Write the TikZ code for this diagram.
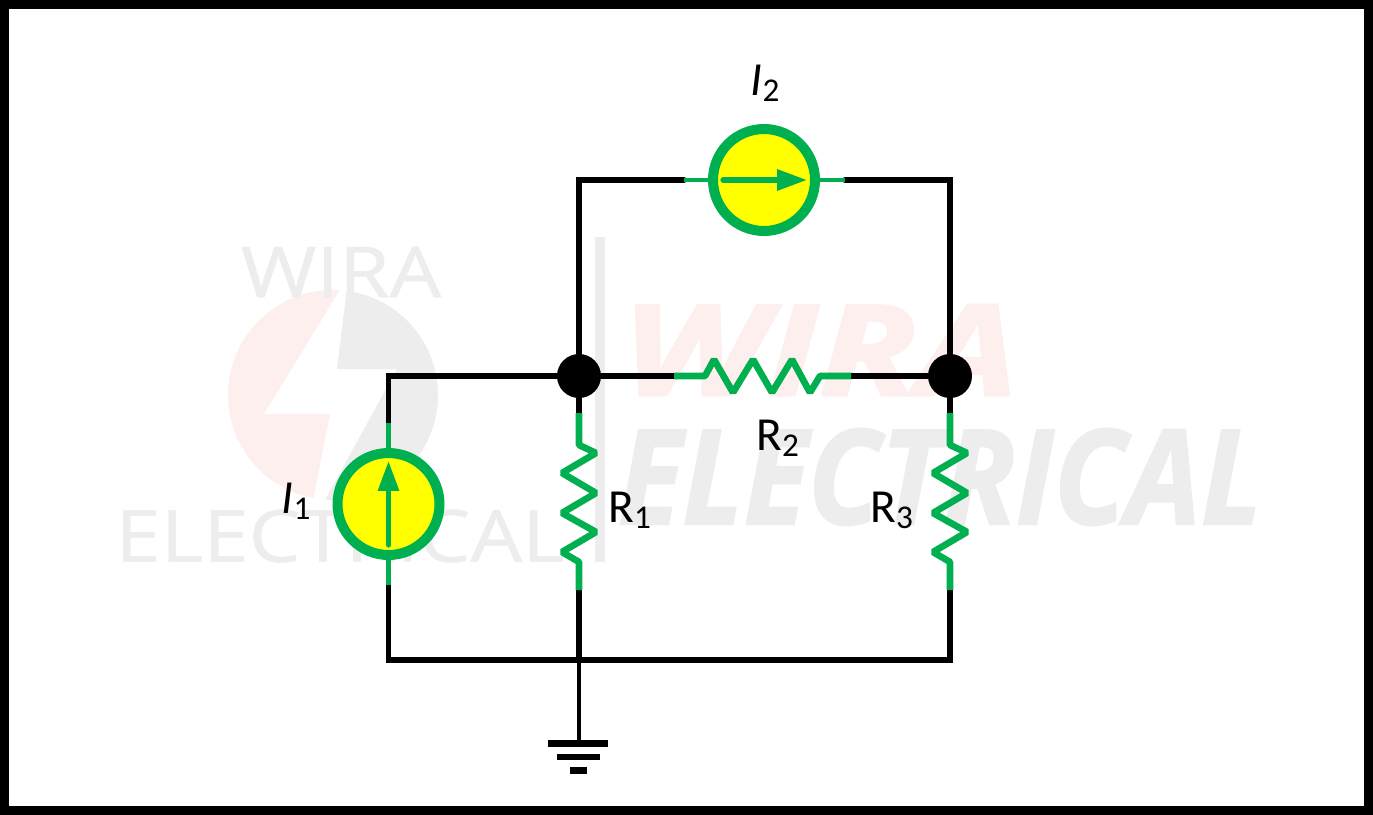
\documentclass[tikz,border=0pt]{standalone}
\usepackage{fontspec}
\setmainfont{Carlito}
\newfontfamily\markfont[FakeBold=0.7]{Open Sans}
\newfontfamily\heavyfont[BoldItalicFeatures={FakeBold=1.5}]{Open Sans}
\usetikzlibrary{arrows.meta}
\definecolor{wiregreen}{HTML}{00B050}
\definecolor{srcyellow}{RGB}{255,255,0}
\definecolor{markgray}{HTML}{EDEDED}
\definecolor{markred}{HTML}{FDEFEE}
\newcommand{\lab}[2]{\textit{#1}\textsubscript{#2}}

\begin{document}
\begin{tikzpicture}[x=0.02cm,y=-0.02cm]
        \tikzset{wire/.style = {line width=3.2pt,line cap=round}}
        \tikzset{lead/.style = {line width=3.2pt,wiregreen}}
        \tikzset{res/.style = {line width=3.8pt,wiregreen,line join=bevel}}
        \tikzset{dot/.style = {shape=circle,fill=black,inner sep=0pt,minimum size=0.88cm}}
        \tikzset{source/.style = {shape=circle,draw=wiregreen,fill=srcyellow,line width=5.7pt,inner sep=0pt,minimum size=2.04cm}}
        \tikzset{flow/.style = {-{Triangle[length=17pt,width=11.5pt]},line width=3pt,line cap=round,wiregreen}}
        \tikzset{tag/.style = {anchor=base,inner sep=0pt,font=\fontsize{27}{32}\selectfont}}
        \tikzset{plate/.style = {fill=black,inner sep=0pt,minimum height=0.13cm}}
        \useasboundingbox (0,0) rectangle (1373,815);
        \fill[white] (0,0) rectangle (1373,815);
        % watermark
        \coordinate (logo) at (333,395);
        \begin{scope}
        \clip (logo) circle[radius=2.1cm];
        \fill[markred] (341,288) -- (264,414) -- (330,414) -- (313,500) -- (200,500) -- (200,288) -- cycle;
        \fill[markgray] (347,288) -- (337,369) -- (397,369) -- (325,500) -- (460,500) -- (460,288) -- cycle;
        \end{scope}
        \fill[markgray] (595,237) rectangle (605,562);
        \node[text=markgray,inner sep=0pt,font=\markfont\fontsize{40}{44}\selectfont] (m1) at (341,272) {\scalebox{1.16}[1]{WIRA}};
        \node[text=markgray,inner sep=0pt,font=\markfont\fontsize{41}{44}\selectfont] (m2) at (340,536) {\scalebox{1.135}[1]{ELECTRICAL}};
        \node[text=markred,inner sep=0pt,font=\heavyfont\bfseries\itshape\fontsize{72}{80}\selectfont] (m3) at (820,350) {\scalebox{1.28}[1]{WIRA}};
        \node[text=markgray,inner sep=0pt,font=\heavyfont\bfseries\itshape\fontsize{75}{80}\selectfont] (m4) at (940,477) {\scalebox{0.9}[1]{ELECTRICAL}};
        % corners and lead ends
        \coordinate (tl) at (579,180);
        \coordinate (tr) at (950,180);
        \coordinate (cl) at (388.5,376);
        \coordinate (bl) at (388.5,660);
        \coordinate (bm) at (579,660);
        \coordinate (br) at (950,660);
        \coordinate (i1a) at (388.5,423);
        \coordinate (i1b) at (388.5,585);
        \coordinate (i2a) at (684,180);
        \coordinate (i2b) at (845,180);
        \coordinate (r1a) at (579,413);
        \coordinate (r1b) at (579,590);
        \coordinate (r2a) at (674,376);
        \coordinate (r2b) at (851,376);
        \coordinate (r3a) at (950,413);
        \coordinate (r3b) at (950,590);
        \coordinate (gnd) at (579,742);
        % vertices
        \node[dot] (n1) at (579,376) {};
        \node[dot] (n2) at (950,376) {};
        \node[source] (i1) at (388.5,504) {};
        \node[source] (i2) at (764,180) {};
        % wires
        \draw[wire] (n1) -- (tl) -- (i2a);
        \draw[wire] (i2b) -- (tr) -- (n2);
        \draw[wire] (i1a) -- (cl) -- (n1);
        \draw[wire] (n1) -- (r2a);
        \draw[wire] (r2b) -- (n2);
        \draw[wire] (n1) -- (r1a);
        \draw[wire] (n2) -- (r3a);
        \draw[wire] (i1b) -- (bl) -- (br) -- (r3b);
        \draw[wire] (r1b) -- (bm);
        \draw[line width=2.4pt] (bm) -- (gnd);
        % green leads
        \draw[lead] (i1) -- (i1a);
        \draw[lead] (i1) -- (i1b);
        \draw[lead,line width=2.5pt] (i2) -- (i2a);
        \draw[lead,line width=2.5pt] (i2) -- (i2b);
        % current arrows
        \coordinate (a1a) at (388.5,545);
        \coordinate (a1b) at (388.5,461);
        \coordinate (a2a) at (723,180);
        \coordinate (a2b) at (807,180);
        \draw[flow] (a1a) -- (a1b);
        \draw[flow] (a2a) -- (a2b);
        % resistors
        \foreach \a/\b in {r1a/r1b,r3a/r3b}
            \draw[res] (\a) -- ++(0,32) -- ++(17,8) -- ++(-34,20) -- ++(34,20) -- ++(-34,20) -- ++(34,19) -- ++(-34,20) -- ++(17,10) -- (\b);
        \draw[res] (r2a) -- ++(31,0) -- ++(9,-16.5) -- ++(19,33) -- ++(20,-33) -- ++(19,33) -- ++(20,-33) -- ++(18,33) -- ++(10,-16.5) -- (r2b);
        % ground
        \node[plate,minimum width=1.2cm] (g1) at (578,743.5) {};
        \node[plate,minimum width=0.86cm] (g2) at (578.5,757) {};
        \node[plate,minimum width=0.34cm] (g3) at (578.5,770.5) {};
        % labels
        \node[tag] (li1) at (296.5,513) {\lab{I}{1}};
        \node[tag] (li2) at (765.5,95) {\lab{I}{2}};
        \node[tag] (lr1) at (630,522) {R\textsubscript{1}};
        \node[tag] (lr2) at (778,450) {R\textsubscript{2}};
        \node[tag] (lr3) at (892,522) {R\textsubscript{3}};
        % frame
        \draw[line width=5.2pt] (4.5,4.5) rectangle (1368.5,810.5);
\end{tikzpicture}
\end{document}
